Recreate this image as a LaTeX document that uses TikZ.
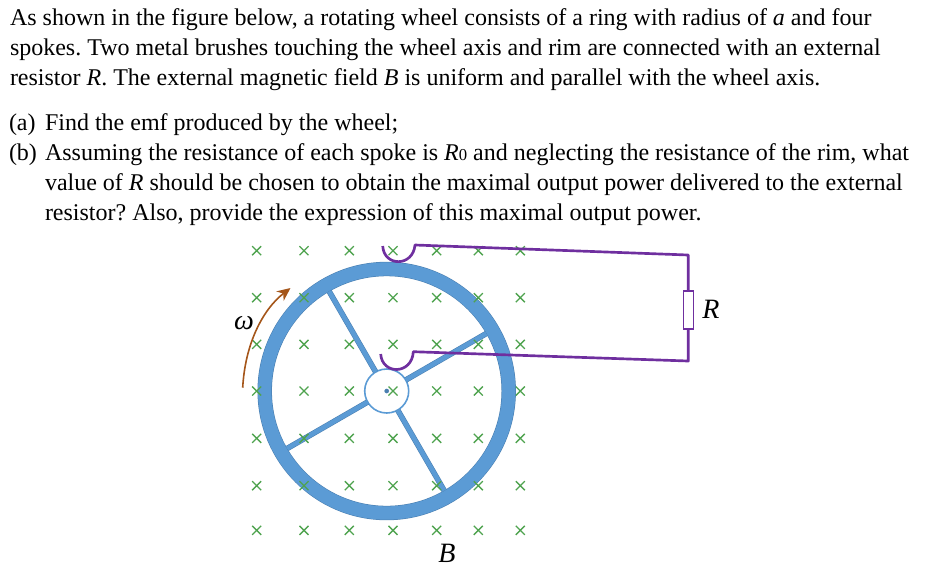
\documentclass[tikz,border=0pt]{standalone}
\usepackage{fontspec}
\setmainfont{Liberation Serif}
\usepackage{xcolor}
\definecolor{ringblue}{HTML}{5B9BD5}
\definecolor{ringedge}{HTML}{4A7FB0}
\definecolor{crossgreen}{HTML}{4FA34F}
\definecolor{wirepurple}{HTML}{6F2F9F}
\definecolor{omegabrown}{HTML}{A5561A}
\usetikzlibrary{arrows.meta, calc}
\tikzset{style={font=\fontsize{18}{20}\selectfont\frenchspacing}}
\begin{document}
\begin{tikzpicture}[x=0.75pt,y=-0.75pt,
                txt/.style={anchor=base west,inner sep=0pt,outer sep=0pt},
                bigtxt/.style={anchor=center,inner sep=0pt,outer sep=0pt,font=\fontsize{21}{23}\selectfont},
                rimring/.style={circle,draw=ringedge,line width=0.4pt,double=ringblue,double distance=10pt,
                    minimum size=183pt,inner sep=0pt,outer sep=0pt},
                rimin/.style={circle,minimum size=172.5pt,inner sep=0pt,outer sep=0pt},
                hubring/.style={circle,draw=ringblue,fill=white,line width=1.2pt,minimum size=33pt,inner sep=0pt,outer sep=0pt},
                spokebar/.style={draw=ringedge,line width=0.4pt,double=ringblue,double distance=3.4pt},
                crossmark/.style={crossgreen,line width=1pt},
                wire/.style={wirepurple,line width=2pt,line join=round},
                resbox/.style={rectangle,draw=wirepurple,fill=white,line width=1pt,minimum width=7.5pt,minimum height=28.5pt,inner sep=0pt}]
                \useasboundingbox (0,0) rectangle (948,587);
                % problem text
                \node[txt] (lineA) at (10,25) {As shown in the figure below, a rotating wheel consists of a ring with radius of \textit{a} and four};
                \node[txt] (lineB) at (10,55) {spokes. Two metal brushes touching the wheel axis and rim are connected with an external};
                \node[txt] (lineC) at (10,85) {resistor \textit{R}. The external magnetic field \textit{B} is uniform and parallel with the wheel axis.};
                \node[txt] (partA) at (9,130) {(a)};
                \node[txt] (textA) at (45,130) {Find the emf produced by the wheel;};
                \node[txt] (partB) at (9,160) {(b)};
                \node[txt] (textB) at (45,160) {Assuming the resistance of each spoke is \textit{R}{\fontsize{12.5}{14}\selectfont 0} and neglecting the resistance of the rim, what};
                \node[txt] (textC) at (45,190) {value of \textit{R} should be chosen to obtain the maximal output power delivered to the external};
                \node[txt] (textD) at (45,220) {resistor? Also, provide the expression of this maximal output power.};
                % wheel
                \node[rimring] (rim) at (386.7,391) {};
                \node[rimin] (inner) at (386.7,391) {};
                \node[hubring] (hub) at (386.7,391) {};
                \foreach \ang in {30,120,210,300}
                    \draw[spokebar] (hub.\ang) -- (inner.\ang);
                \node[circle,fill=ringedge,minimum size=3.5pt,inner sep=0pt] (axis) at (386.7,391) {};
                % field
                \foreach \px in {256.7,304,349.3,393,436.7,478.3,520.3}
                    \foreach \py in {250.7,297.7,344.3,391,438.3,485.7,530.3}
                        \draw[crossmark] (\px-4.5,\py-4.5) -- (\px+4.5,\py+4.5) (\px-4.5,\py+4.5) -- (\px+4.5,\py-4.5);
                % circuit
                \node[resbox] (res) at (688.3,310) {};
                \coordinate (topL) at (382.7,246);
                \coordinate (topR) at (415,245);
                \coordinate (cornerT) at (688.3,255);
                \coordinate (cornerB) at (688.3,361);
                \coordinate (botR) at (413.3,351.7);
                \coordinate (botL) at (380.7,354);
                \draw[wire] (topL) .. controls (384,267) and (413,267) .. (topR) -- (cornerT) -- (res.north);
                \draw[wire] (res.south) -- (cornerB) -- (botR) .. controls (412,375) and (382,375) .. (botL);
                % rotation
                \coordinate (omegaS) at (242.7,387.7);
                \coordinate (omegaE) at (290.5,288);
                \draw[omegabrown,line width=1.2pt,-{Stealth[length=10pt,width=9pt]}] (omegaS) .. controls (245,345) and (262,310) .. (omegaE);
                \node[bigtxt] (omega) at (244,323) {\textit{ω}};
                \node[bigtxt] (fieldB) at (447,553) {\textit{B}};
                \node[bigtxt] (resR) at (711,309) {\textit{R}};
            \end{tikzpicture}
\end{document}
